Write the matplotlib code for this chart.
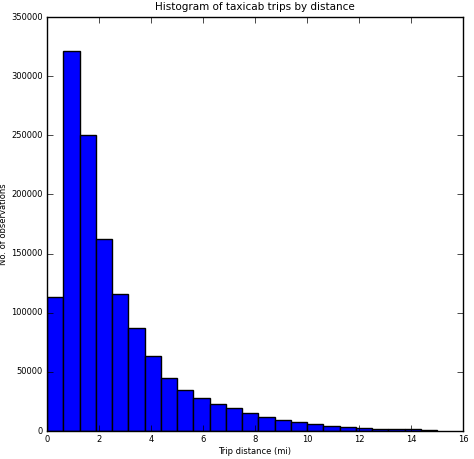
import matplotlib.pyplot as plt
import numpy as np

# histogram counts per 0.625-mile bin, 0..15 miles
counts = [113000, 321000, 250000, 162000, 116000, 87000, 63000, 45000,
          35000, 28000, 23000, 19500, 15500, 12000, 9000, 7500,
          5500, 4500, 3300, 2700, 2100, 1700, 1400, 900]
edges = np.linspace(0, 15, len(counts) + 1)

plt.style.use('classic')
fig = plt.figure(figsize=(4.74, 4.59), dpi=100)
ax = fig.add_axes([47 / 474, 28 / 459, 416 / 474, 414 / 459])
ax.bar(edges[:-1], counts, width=np.diff(edges), align='edge',
       color='#0000ff', edgecolor='black', linewidth=1)
ax.set_xlim(0, 16)
ax.set_ylim(0, 350000)
ax.set_yticks(np.arange(0, 350001, 50000))
ax.tick_params(labelsize=6, pad=3)
ax.set_title('Histogram of taxicab trips by distance', fontsize=7.5)
ax.set_xlabel('Trip distance (mi)', fontsize=6, labelpad=2)
ax.set_ylabel('No. of observations', fontsize=6, labelpad=2)
fig.savefig('out.png', dpi=100, facecolor='white')
